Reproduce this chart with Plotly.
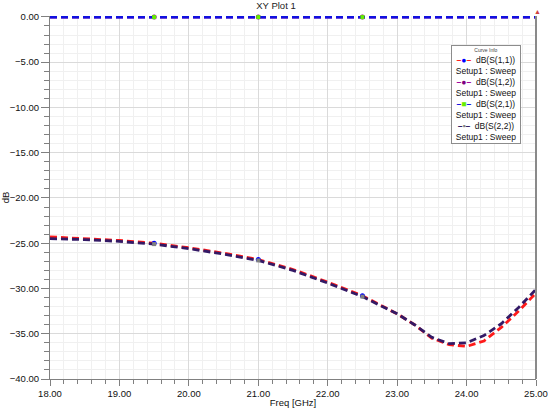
import plotly.graph_objects as go

# frequency points (GHz)
freq = [18.0, 18.5, 19.0, 19.5, 20.0, 20.5, 21.0, 21.5, 22.0, 22.5,
        23.0, 23.25, 23.5, 23.75, 24.0, 24.25, 24.5, 24.75, 25.0]

s11 = [-24.3, -24.5, -24.7, -25.0, -25.5, -26.1, -26.8, -27.9, -29.3, -30.8,
       -32.8, -34.0, -35.5, -36.2, -36.4, -35.8, -34.3, -32.5, -30.5]
s22 = [-24.5, -24.6, -24.8, -25.1, -25.6, -26.2, -26.9, -28.0, -29.4, -30.9,
       -32.8, -34.0, -35.4, -36.1, -36.0, -35.2, -33.9, -32.1, -30.1]
s12 = [-0.02] * len(freq)
s21 = [-0.02] * len(freq)

marker_freqs = [19.5, 21.0, 22.5]

names = ["dB(S(1,1))", "dB(S(1,2))", "dB(S(2,1))", "dB(S(2,2))"]
line_colors = ["#ff1a1a", "#a000a0", "#1010e0", "#331a66"]
marker_colors = ["#0000ff", "#800080", "#66ee00", "#808080"]
marker_symbols = ["circle", "circle", "square", "square"]
marker_sizes = [5, 5, 4, 4]
legend_glyphs = ["\u25cf", "\u25cf", "\u25a0", "\u25aa"]

FONT = "Arial, Liberation Sans, sans-serif"

fig = go.Figure()

series = [s11, s12, s21, s22]
draw_order = [0, 3, 1, 2]
for i in draw_order:
    ys = series[i]
    fig.add_trace(go.Scatter(
        x=freq, y=ys, mode="lines", name=names[i],
        line=dict(color=line_colors[i], width=2.8, dash="7px,4px"),
        hoverinfo="x+y+name"))
    my = [ys[freq.index(f)] for f in marker_freqs]
    fig.add_trace(go.Scatter(
        x=marker_freqs, y=my, mode="markers", name=names[i],
        marker=dict(color=marker_colors[i], size=marker_sizes[i], symbol=marker_symbols[i]),
        cliponaxis=False))

# "Curve Info" box, built as text
lines = ["<span style='font-size:5px;color:#444'>Curve Info</span>"]
for i in range(4):
    c, m = line_colors[i], marker_colors[i]
    key = (f"<span style='color:{c}'><b>\u2013</b></span><span style='color:{m}'>{legend_glyphs[i]}</span>"
           f"<span style='color:{c}'><b>\u2013</b></span>")
    lines.append(key + "&nbsp;&nbsp;" + names[i])
    lines.append("Setup1 : Sweep")
legend_text = "<br>".join(lines)

fig.add_annotation(
    text=legend_text, xref="paper", yref="paper", x=0.825, y=0.92,
    xanchor="left", yanchor="top", align="center", showarrow=False,
    width=66, bgcolor="white", bordercolor="#8c8c8c", borderwidth=1, borderpad=1,
    font=dict(family=FONT, size=8.5, color="#111111"))

fig.update_layout(
    width=552, height=408,
    margin=dict(l=50, r=16, t=16, b=29),
    paper_bgcolor="white", plot_bgcolor="white",
    font=dict(family=FONT, size=10, color="#111111"),
    title=dict(text="XY Plot 1", x=0.5, xref="container", y=0.995, yref="container",
               yanchor="top", font=dict(size=9.5, color="#222222")),
    showlegend=False,
)

fig.update_xaxes(
    range=[18, 25], dtick=1, tick0=18, tickformat=".2f", automargin=False,
    showgrid=True, gridcolor="#dadada", gridwidth=1,
    ticks="outside", ticklen=6, tickcolor="#808080",
    showline=True, linecolor="#808080", linewidth=1,
    minor=dict(dtick=0.2, showgrid=True, gridcolor="#f0f0f0",
               ticks="outside", ticklen=4, tickcolor="#808080"),
    zeroline=False,
    title=dict(text="Freq [GHz]", standoff=0, font=dict(size=9.5)),
    tickfont=dict(size=9.5, color="#111111"),
)
fig.update_yaxes(
    range=[-40, 0.1], dtick=5, tick0=0, tickformat=".2f", automargin=False,
    showgrid=True, gridcolor="#dadada", gridwidth=1,
    ticks="outside", ticklen=8, tickcolor="#808080",
    showline=True, linecolor="#808080", linewidth=1,
    minor=dict(dtick=1, showgrid=True, gridcolor="#f0f0f0",
               ticks="outside", ticklen=5, tickcolor="#808080"),
    zeroline=False,
    title=dict(text="dB", standoff=0, font=dict(size=9.5)),
    tickfont=dict(size=9.5, color="#111111"),
)

# right border of the plotting area
fig.add_shape(type="line", xref="paper", yref="paper", x0=1, x1=1, y0=0, y1=1,
              line=dict(color="#8a8a8a", width=2))

# small red marker in the corner
fig.add_annotation(text="\u25b2", xref="paper", yref="paper", x=1.014, y=1.027,
                   showarrow=False, font=dict(size=7, color="#d04040"))

# page has a default body margin; drop it so the figure fills the window
fig.write_html("out.html", config={"displayModeBar": False},
               post_script="document.body.style.margin='0';")
